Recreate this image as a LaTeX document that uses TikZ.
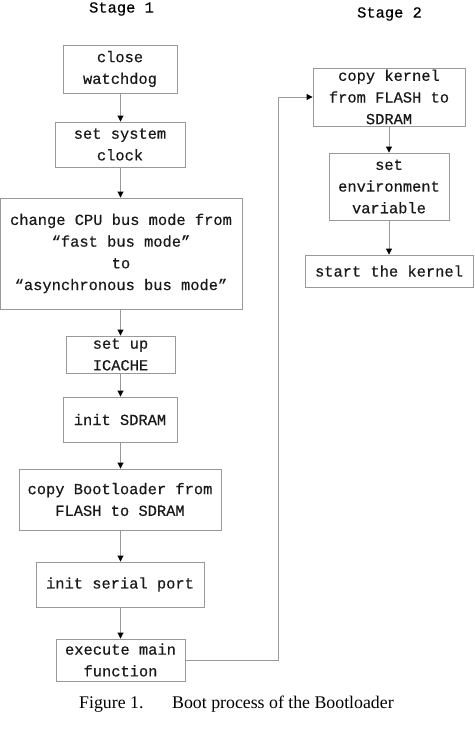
\documentclass[tikz,border=0pt]{standalone}
\usepackage{fontspec}
\setmonofont[FakeBold=0.4]{Liberation Mono}
\newfontfamily\capfont{Liberation Serif}
\usetikzlibrary{arrows.meta}
\begin{document}
\begin{tikzpicture}[x=1pt,y=-1pt,
  box/.style={draw=black!40, line width=0.9pt, inner sep=0pt, align=center,
    font=\fontsize{15.4}{21.7}\selectfont\ttfamily, text=black!90},
  conn/.style={draw=black!40, line width=0.9pt, -{Triangle[length=6pt,width=6pt,color=black]}},
  stagelbl/.style={font=\fontsize{15.4}{21.7}\selectfont\ttfamily, inner sep=0pt},
  caplbl/.style={font=\fontsize{17.8}{20}\selectfont\capfont, inner sep=0pt, anchor=base west}]
\useasboundingbox (0,0) rectangle (474,739);
\fill[white] (0,0) rectangle (474,739);

\node[stagelbl] (s1) at (121.5,9) {Stage 1};
\node[stagelbl] (s2) at (389.5,14) {Stage 2};

\node[box, minimum width=114pt, minimum height=48pt] (cw) at (120,69) {close\\watchdog};
\node[box, minimum width=130pt, minimum height=45pt] (clk) at (120,144.5) {set system\\clock};
\node[box, minimum width=242pt, minimum height=111pt] (cpu) at (121,253.5) {change CPU bus mode from\\“fast bus mode”\\to\\“asynchronous bus mode”};
\node[box, minimum width=109pt, minimum height=37pt] (ic) at (120.5,354.5) {set up\\ICACHE};
\node[box, minimum width=114pt, minimum height=45pt] (sd) at (120,419.5) {init SDRAM};
\node[box, minimum width=202pt, minimum height=61pt] (cb) at (120,499.5) {copy Bootloader from\\FLASH to SDRAM};
\node[box, minimum width=168pt, minimum height=45pt] (sp) at (120,584.5) {init serial port};
\node[box, minimum width=129pt, minimum height=42pt] (em) at (120.5,660) {execute main\\function};

\node[box, minimum width=152pt, minimum height=58pt] (ck) at (389,97) {copy kernel\\from FLASH to\\SDRAM};
\node[box, minimum width=120pt, minimum height=67pt] (env) at (389,186.5) {set\\environment\\variable};
\node[box, minimum width=168pt, minimum height=32pt] (st) at (389,271) {start the kernel};

\draw[conn] (cw.south -| 120.5,0) -- (clk.north -| 120.5,0);
\draw[conn] (clk.south -| 120.5,0) -- (cpu.north -| 120.5,0);
\draw[conn] (cpu.south -| 120.5,0) -- (ic.north -| 120.5,0);
\draw[conn] (ic.south -| 120.5,0) -- (sd.north -| 120.5,0);
\draw[conn] (sd.south -| 120.5,0) -- (cb.north -| 120.5,0);
\draw[conn] (cb.south -| 120.5,0) -- (sp.north -| 120.5,0);
\draw[conn] (sp.south -| 120.5,0) -- (em.north -| 120.5,0);

\coordinate (turn) at (278.5,660);
\draw[conn] (em.east) -- (turn) |- (ck.west);
\draw[conn] (ck.south) -- (env.north);
\draw[conn] (env.south) -- (st.north);

\node[caplbl] (fig) at (79,708) {Figure 1.};
\node[caplbl] (cap) at (172,708) {Boot process of the Bootloader};
\end{tikzpicture}
\end{document}
